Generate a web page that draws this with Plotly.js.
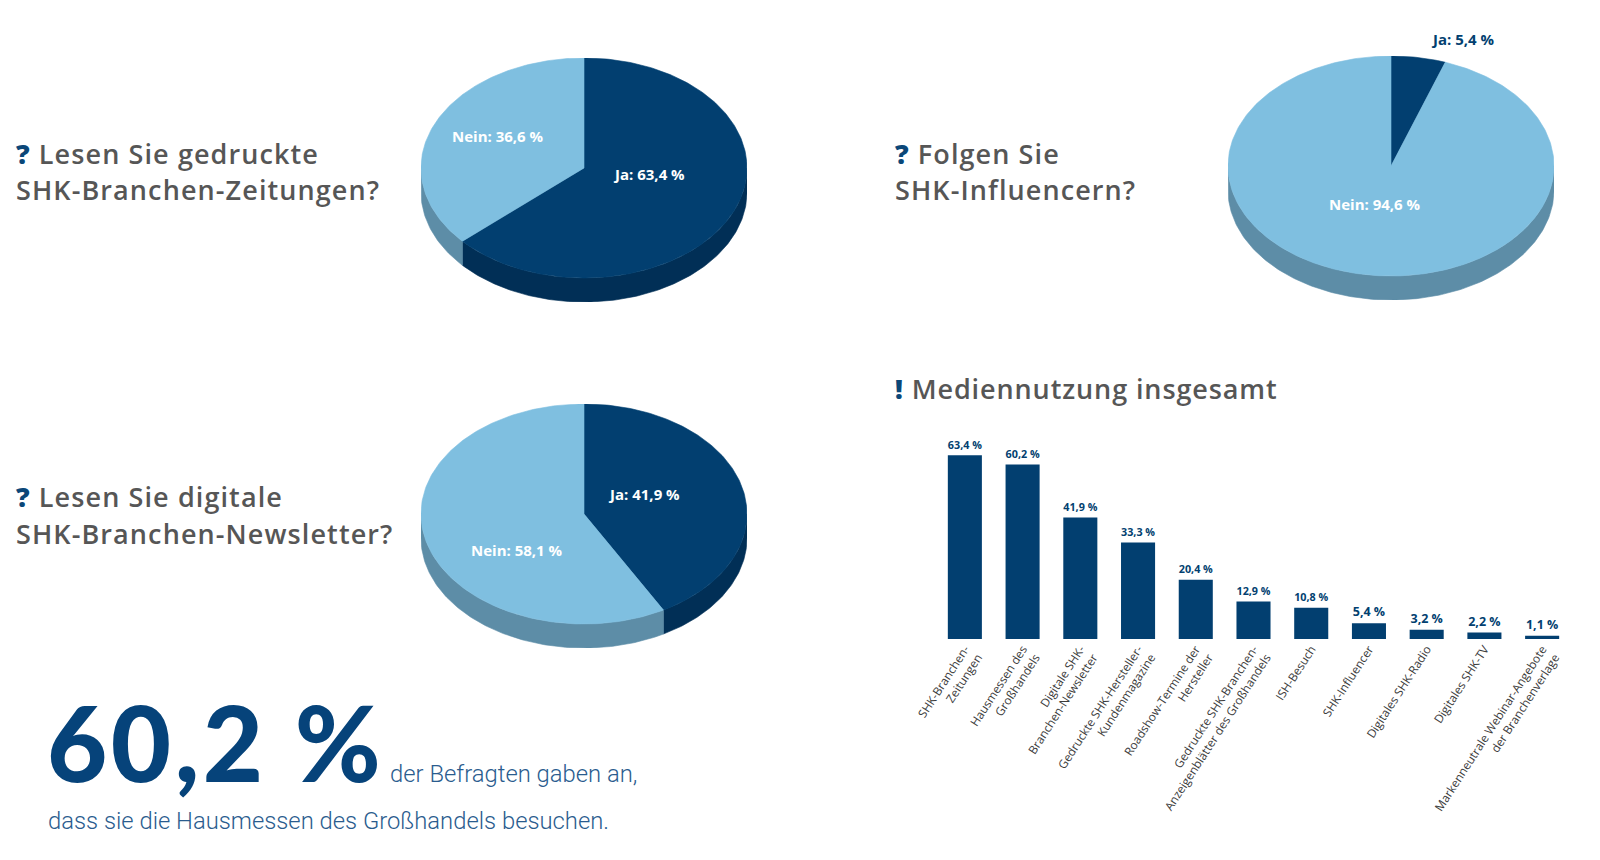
<!DOCTYPE html>
<html>
<head>
<meta charset="utf-8">
<script src="https://cdn.plot.ly/plotly-3.0.1.min.js"></script>
<style>html,body{margin:0;padding:0;background:#fff}#chart{width:1600px;height:860px}</style>
</head>
<body>
<div id="chart"></div>
<script>
// ---------- data ----------
const pieSliceLabels = ['Ja', 'Nein'];
const pie1Values = [63.4, 36.6];
const pie2Values = [5.4, 94.6];
const pie3Values = [41.9, 58.1];
const pie1Question = ['Lesen Sie gedruckte', 'SHK-Branchen-Zeitungen?'];
const pie2Question = ['Folgen Sie', 'SHK-Influencern?'];
const pie3Question = ['Lesen Sie digitale', 'SHK-Branchen-Newsletter?'];

const barTitle = 'Mediennutzung insgesamt';
const barCategories = [
  'SHK-Branchen-<br>Zeitungen',
  'Hausmessen des<br>Großhandels',
  'Digitale SHK-<br>Branchen-Newsletter',
  'Gedruckte SHK-Hersteller-<br>Kundenmagazine',
  'Roadshow-Termine der<br>Hersteller',
  'Gedruckte SHK-Branchen-<br>Anzeigenblätter des Großhandels',
  'ISH-Besuch',
  'SHK-Influencer',
  'Digitales SHK-Radio',
  'Digitales SHK-TV',
  'Markenneutrale Webinar-Angebote<br>der Branchenverlage'
];
const barValues = [63.4, 60.2, 41.9, 33.3, 20.4, 12.9, 10.8, 5.4, 3.2, 2.2, 1.1];

const highlightValue = 60.2;
const highlightLine1 = 'der Befragten gaben an,';
const highlightLine2 = 'dass sie die Hausmessen des Großhandels besuchen.';

// ---------- styling / layout ----------
const W = 1600, H = 860;
const NAVY = '#023f70', LIGHT = '#7fbfe0', NAVY_SIDE = '#012f56', LIGHT_SIDE = '#5d8da7';
const GRAY = '#565656';
const FONT = 'Open Sans';
const px = x => x / W;
const py = y => 1 - y / H;
const fmt = v => v.toFixed(1).replace('.', ',');

const RX = 163, RY = 110, DEPTH = 24;
const D = DEPTH / RY;
const pies = [
  {values: pie1Values, q: pie1Question, cx: 584, cy: 168, qx: 14, qy: [153, 189],
   lab: [[649, 174, '#fff'], [498, 136, '#fff']]},
  {values: pie2Values, q: pie2Question, cx: 1391, cy: 166, qx: 893, qy: [153, 189],
   lab: [[1463, 39, NAVY], [1375, 204, '#fff']]},
  {values: pie3Values, q: pie3Question, cx: 584, cy: 514, qx: 14, qy: [497, 533],
   lab: [[644, 494, '#fff'], [517, 550, '#fff']]}
];
const topColors = [NAVY, LIGHT], sideColors = [NAVY_SIDE, LIGHT_SIDE];
const SPACED = (s, ls) => '<span style="letter-spacing:' + ls + 'px">' + s + '</span>';

function arc(a0, a1, dy) {
  const pts = [];
  const n = Math.max(2, Math.ceil(a1 - a0));
  for (let i = 0; i <= n; i++) {
    const t = (a0 + (a1 - a0) * i / n) * Math.PI / 180;
    pts.push([Math.sin(t), Math.cos(t) + dy]);
  }
  return pts;
}

const traces = [];
const layout = {
  width: W, height: H, margin: {l: 0, r: 0, t: 0, b: 0},
  paper_bgcolor: '#fff', plot_bgcolor: 'rgba(0,0,0,0)',
  separators: ',.', showlegend: false,
  font: {family: FONT},
  annotations: []
};

pies.forEach((p, i) => {
  const n = i + 2;
  const xa = 'x' + n, ya = 'y' + n;
  layout['xaxis' + n] = {domain: [px(p.cx - RX), px(p.cx + RX)], range: [-1, 1], visible: false, fixedrange: true, anchor: ya};
  layout['yaxis' + n] = {domain: [py(p.cy + RY + DEPTH), py(p.cy - RY)], range: [-1 - D, 1], visible: false, fixedrange: true, anchor: xa};
  const total = p.values.reduce((a, b) => a + b, 0);
  let start = 0;
  const spans = p.values.map(v => { const s = [start, start + v / total * 360]; start = s[1]; return s; });
  // visible side walls
  spans.forEach((s, k) => {
    const b0 = Math.max(s[0], 90), b1 = Math.min(s[1], 270);
    if (b1 <= b0) return;
    const pts = arc(b0, b1, 0).concat(arc(b0, b1, -D).reverse());
    pts.push(pts[0]);
    traces.push({type: 'scatter', mode: 'lines', xaxis: xa, yaxis: ya,
      x: pts.map(q => q[0]), y: pts.map(q => q[1]), fill: 'toself',
      fillcolor: sideColors[k], line: {color: sideColors[k], width: 0.6}, hoverinfo: 'skip'});
  });
  // top faces
  spans.forEach((s, k) => {
    const pts = [[0, 0]].concat(arc(s[0], s[1], 0));
    pts.push([0, 0]);
    traces.push({type: 'scatter', mode: 'lines', xaxis: xa, yaxis: ya,
      x: pts.map(q => q[0]), y: pts.map(q => q[1]), fill: 'toself',
      fillcolor: topColors[k], line: {color: topColors[k], width: 0.6}, hoverinfo: 'skip'});
  });
  // slice labels
  p.values.forEach((v, k) => {
    const [lx, ly, col] = p.lab[k];
    layout.annotations.push({xref: 'paper', yref: 'paper', x: px(lx), y: py(ly), xanchor: 'center', yanchor: 'middle',
      showarrow: false, text: '<b>' + pieSliceLabels[k] + ': ' + fmt(v) + ' %</b>',
      font: {family: FONT, size: 15, color: col}});
  });
  // question
  p.q.forEach((line, k) => {
    layout.annotations.push({xref: 'paper', yref: 'paper', x: px(p.qx), y: py(p.qy[k]), xanchor: 'left', yanchor: 'middle',
      showarrow: false,
      text: SPACED((k === 0 ? '<span style="color:#0b4778;font-weight:800">?</span> ' : '') + line, 1.1),
      font: {family: FONT, size: 27, color: GRAY, weight: 600}});
  });
});

// bar chart
traces.push({type: 'bar', x: barCategories, y: barValues, marker: {color: NAVY},
  texttemplate: '%{y:.1f} %', textposition: 'outside', cliponaxis: false,
  textfont: {family: FONT, size: 12.5, color: NAVY, weight: 700}, hoverinfo: 'skip'});
layout.xaxis = {domain: [px(936), px(1571)], showgrid: false, zeroline: false, showline: false,
  ticks: '', tickangle: -57, tickfont: {family: FONT, size: 11.8, color: '#3c3c3c'}, fixedrange: true, automargin: false};
layout.yaxis = {domain: [py(639), py(436)], range: [0, 70], visible: false, fixedrange: true};
layout.bargap = 0.41;
layout.annotations.push({xref: 'paper', yref: 'paper', x: px(893), y: py(388), xanchor: 'left', yanchor: 'middle',
  showarrow: false, text: SPACED('<span style="color:#0b4778;font-weight:800">!</span> ' + barTitle, 0.9),
  font: {family: FONT, size: 27, color: GRAY, weight: 600}});

// highlight statement: big figure baseline-aligned with first line
layout.annotations.push({xref: 'paper', yref: 'paper', x: px(46), y: py(805), xanchor: 'left', yanchor: 'bottom',
  showarrow: false, align: 'left', borderpad: 0,
  text: '<span style="font-family:Lato;font-size:104px;font-weight:900;letter-spacing:3.5px;color:#06437a">' +
        fmt(highlightValue) + ' %</span>&nbsp;' + highlightLine1,
  font: {family: 'Roboto', size: 23.8, color: '#2a5c8e', weight: 300}});
layout.annotations.push({xref: 'paper', yref: 'paper', x: px(47), y: py(806), xanchor: 'left', yanchor: 'top',
  showarrow: false, align: 'left', borderpad: 0,
  text: highlightLine2,
  font: {family: 'Roboto', size: 23.8, color: '#2a5c8e', weight: 300}});

Plotly.newPlot('chart', traces, layout, {displayModeBar: false, staticPlot: true});
</script>
</body>
</html>
